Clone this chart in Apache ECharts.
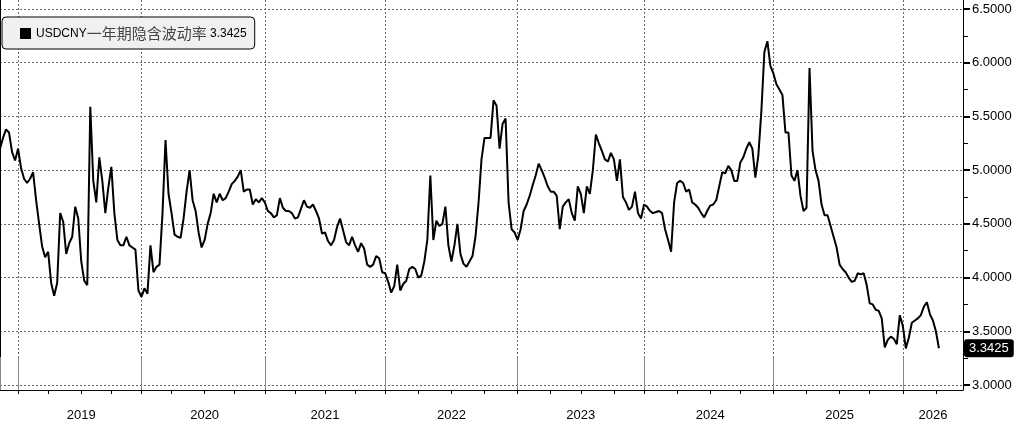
<!DOCTYPE html>
<html>
<head>
<meta charset="utf-8">
<script src="https://cdn.jsdelivr.net/npm/echarts@6/dist/echarts.min.js"></script>
<style>
  html, body { margin: 0; padding: 0; background: #fff; }
  #chart { width: 1015px; height: 423px; }
</style>
</head>
<body>
<div id="chart"></div>
<script>
// USDCNY 一年期隐含波动率, 按年份分段读取 (每段约为图上等距的交易日采样)
const seriesName = "USDCNY一年期隐含波动率";
const years = [2018, 2019, 2020, 2021, 2022, 2023, 2024, 2025, 2026];

const vol2018 = [5.20, 5.30, 5.38, 5.35, 5.17, 5.09];
const vol2019 = [
  5.20, 5.02, 4.92, 4.88, 4.92, 4.98, 4.72, 4.50, 4.29, 4.19,
  4.24, 3.95, 3.83, 3.95, 4.60, 4.52, 4.22, 4.32, 4.38, 4.66,
  4.55, 4.15, 3.97, 3.93, 5.59, 4.90, 4.70, 5.12, 4.90, 4.60,
  4.84, 5.03, 4.60, 4.35, 4.30, 4.30, 4.38, 4.30, 4.28, 4.26,
  3.88
];
const vol2020 = [
  3.82, 3.90, 3.85, 4.30, 4.05, 4.10, 4.12, 4.60, 5.28, 4.78,
  4.60, 4.40, 4.38, 4.37, 4.55, 4.80, 5.00, 4.72, 4.62, 4.42,
  4.28, 4.35, 4.50, 4.60, 4.78, 4.70, 4.78, 4.72, 4.74, 4.80,
  4.87, 4.90, 4.94, 5.00, 4.80, 4.82, 4.82, 4.68, 4.73, 4.70,
  4.74
];
const vol2021 = [
  4.70, 4.62, 4.60, 4.56, 4.58, 4.74, 4.65, 4.62, 4.62, 4.60,
  4.55, 4.56, 4.64, 4.72, 4.66, 4.65, 4.68, 4.62, 4.55, 4.41,
  4.42, 4.34, 4.30, 4.35, 4.47, 4.55, 4.44, 4.33, 4.30, 4.38,
  4.30, 4.24, 4.32, 4.27, 4.12, 4.10, 4.12, 4.20, 4.18, 4.05
];
const vol2022 = [
  4.04, 3.96, 3.86, 3.92, 4.12, 3.88, 3.94, 3.97, 4.08, 4.10,
  4.08, 4.00, 4.02, 4.15, 4.35, 4.95, 4.35, 4.53, 4.48, 4.50,
  4.66, 4.30, 4.15, 4.30, 4.50, 4.22, 4.13, 4.10, 4.15, 4.20,
  4.38, 4.69, 5.10, 5.30, 5.30, 5.30, 5.65, 5.60, 5.20, 5.43,
  5.48, 4.70, 4.45, 4.42
];
const vol2023 = [
  4.35, 4.45, 4.62, 4.68, 4.76, 4.86, 4.95, 5.06, 5.00, 4.93,
  4.85, 4.80, 4.80, 4.76, 4.45, 4.66, 4.70, 4.73, 4.60, 4.53,
  4.85, 4.78, 4.60, 4.85, 4.78, 5.00, 5.33, 5.25, 5.18, 5.10,
  5.08, 5.16, 5.10, 4.90, 5.10, 4.75, 4.70, 4.63, 4.66, 4.80,
  4.60, 4.55
];
const vol2024 = [
  4.68, 4.66, 4.62, 4.60, 4.61, 4.62, 4.60, 4.45, 4.35, 4.24,
  4.70, 4.88, 4.90, 4.88, 4.80, 4.82, 4.70, 4.68, 4.65, 4.60,
  4.56, 4.62, 4.67, 4.68, 4.72, 4.85, 4.98, 4.97, 5.04, 5.00,
  4.90, 4.90, 5.07, 5.12, 5.20, 5.26, 5.20, 4.93, 5.14, 5.55,
  6.10, 6.20, 5.97
];
const vol2025 = [
  5.90, 5.80, 5.75, 5.70, 5.35, 5.35, 4.95, 4.90, 5.00, 4.76,
  4.62, 4.65, 5.95, 5.18, 5.00, 4.90, 4.68, 4.58, 4.58, 4.48,
  4.38, 4.28, 4.12, 4.08, 4.05, 4.00, 3.96, 3.97, 4.04, 4.03,
  4.04, 3.93, 3.76, 3.75, 3.70, 3.69, 3.62, 3.35, 3.42, 3.45,
  3.43, 3.38, 3.65
];
const vol2026 = [3.55, 3.34, 3.44, 3.58, 3.60, 3.62, 3.65, 3.73, 3.77, 3.66, 3.60, 3.50, 3.3425];

const volByYear = [vol2018, vol2019, vol2020, vol2021, vol2022, vol2023, vol2024, vol2025, vol2026];
const axisPadEnd = 8; // 轴在最后数据之后留的空白

// 组装类目轴
const categories = [];
const values = [];
const yearStart = {};
years.forEach((y, k) => {
  yearStart[y] = categories.length;
  volByYear[k].forEach((v, j) => {
    categories.push(y + "-" + (j + 1));
    values.push(v);
  });
});
for (let j = 0; j < axisPadEnd; j++) {
  categories.push("2026-" + (vol2026.length + j + 1));
}
const lastIndex = categories.length - 1;
const lastValue = values[values.length - 1];

const boundarySet = new Set();
const quarterSet = new Set();
const labelSet = new Set();
years.slice(1).forEach((y, k) => {
  const s = yearStart[y];
  boundarySet.add(s);
  quarterSet.add(s);
  const next = yearStart[y + 1];
  const e = next !== undefined ? next : lastIndex;
  labelSet.add(Math.round((s + e) / 2));
  const len = next !== undefined ? next - s : 43;
  [1, 2, 3].forEach(q => {
    const qi = s + Math.round(len * q / 4);
    if (qi <= lastIndex) quarterSet.add(qi);
  });
});

const chart = echarts.init(document.getElementById("chart"));
const font = "'Liberation Sans', Arial, sans-serif";
const dash = { type: [2, 2], color: "#666", width: 1 };

const option = {
  animation: false,
  backgroundColor: "#fff",
  textStyle: { fontFamily: font },
  grid: [
    { left: 0, right: 52, top: 9, bottom: 38 },
    { left: 0, right: 52, top: 0, bottom: 33 }
  ],
  legend: {
    left: 2,
    top: 17,
    data: [seriesName],
    icon: "rect",
    itemWidth: 11,
    itemHeight: 11,
    padding: [9, 8, 8, 18],
    backgroundColor: "#f0f0f0",
    borderColor: "#000",
    borderWidth: 1,
    borderRadius: 4,
    formatter: name =>
      "{a|" + name.slice(0, 6) + "}{b|" + name.slice(6) + "}{a| " + lastValue.toFixed(4) + "}",
    textStyle: {
      rich: {
        a: { fontFamily: font, fontSize: 12, color: "#000" },
        b: { fontFamily: "'Noto Sans CJK SC'", fontSize: 15, color: "#444" }
      }
    }
  },
  graphic: [
    {
      type: "group",
      left: 9,
      top: 29,
      z: 100,
      children: [
        { type: "rect", shape: { x: 0.5, y: 0.5, width: 5, height: 5 }, style: { fill: "#fff", stroke: "#777", lineWidth: 1 } },
        { type: "line", shape: { x1: 1.5, y1: 3, x2: 4.5, y2: 3 }, style: { stroke: "#444", lineWidth: 1 } },
        { type: "line", shape: { x1: 3, y1: 1.5, x2: 3, y2: 4.5 }, style: { stroke: "#444", lineWidth: 1 } }
      ]
    }
  ],
  xAxis: [
    {
      gridIndex: 0,
      type: "category",
      data: categories,
      boundaryGap: false,
      show: false
    },
    {
      gridIndex: 1,
      type: "category",
      data: categories,
      boundaryGap: false,
      axisLine: { lineStyle: { color: "#000", width: 1 } },
      axisTick: { interval: i => quarterSet.has(i), length: 4, lineStyle: { color: "#000" } },
      axisLabel: {
        interval: i => labelSet.has(i),
        margin: 19,
        fontSize: 13,
        color: "#000",
        formatter: v => v.slice(0, 4)
      },
      splitLine: { show: true, interval: i => boundarySet.has(i), lineStyle: dash }
    },
    {
      gridIndex: 1,
      type: "category",
      data: categories,
      boundaryGap: false,
      axisLine: { show: false },
      axisTick: { interval: i => boundarySet.has(i) || i === 0, length: 33, lineStyle: { color: "#888" } },
      axisLabel: { show: false },
      splitLine: { show: false }
    }
  ],
  yAxis: [
    {
      gridIndex: 0,
      type: "value",
      position: "right",
      min: 3,
      max: 6.5,
      interval: 0.5,
      axisLine: { show: false },
      axisTick: { show: true, length: 7, lineStyle: { color: "#000", width: 2 } },
      minorTick: { show: true, splitNumber: 2, length: 5, lineStyle: { color: "#000" } },
      axisLabel: { margin: 9, fontSize: 13, color: "#000", formatter: v => v.toFixed(4) },
      splitLine: { lineStyle: dash },
      axisPointer: {
        show: true,
        type: "line",
        value: lastValue,
        status: "show",
        snap: false,
        triggerTooltip: false,
        lineStyle: { opacity: 0 },
        label: {
          show: true,
          backgroundColor: "#000",
          color: "#fff",
          fontSize: 13,
          fontFamily: font,
          padding: [3, 5, 2, 5],
          margin: 1,
          formatter: p => Number(p.value).toFixed(4)
        }
      }
    },
    {
      gridIndex: 1,
      type: "value",
      position: "right",
      axisLine: { show: true, lineStyle: { color: "#000" } },
      axisTick: { show: false },
      axisLabel: { show: false },
      splitLine: { show: false }
    },
    {
      gridIndex: 1,
      type: "value",
      position: "left",
      axisLine: { show: true, lineStyle: { color: "#000" } },
      axisTick: { show: false },
      axisLabel: { show: false },
      splitLine: { show: false }
    }
  ],
  series: [
    {
      name: seriesName,
      type: "line",
      xAxisIndex: 0,
      yAxisIndex: 0,
      data: values,
      showSymbol: false,
      symbol: "none",
      lineStyle: { color: "#000", width: 2 },
      itemStyle: { color: "#000" }
    }
  ]
};
chart.setOption(option);
</script>
</body>
</html>
